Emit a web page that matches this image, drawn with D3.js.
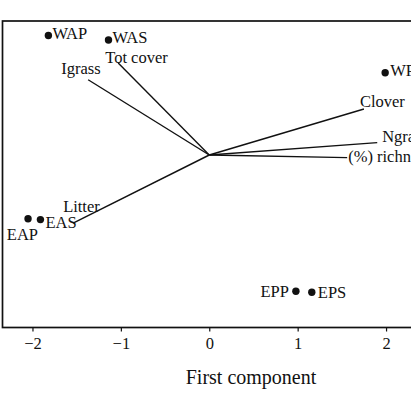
<!DOCTYPE html>
<html lang="en">
<head>
<meta charset="UTF-8" />
<title>Biplot</title>
<style>
  html, body { margin: 0; padding: 0; background: #fff; }
  svg { display: block; font-family: "Liberation Serif", "DejaVu Serif", serif; }
</style>
</head>
<body>
<div class="chart"></div>
<script src="https://d3js.org/d3.v7.min.js"></script>
<script>
// sites (scores)
const siteNames = ['WAP', 'WAS', 'WPP', 'EAP', 'EAS', 'EPP', 'EPS'];
const siteX = [-1.82, -1.14, 1.99, -2.05, -1.91, 0.98, 1.16];
const siteY = [1.35, 1.30, 0.93, -0.72, -0.73, -1.54, -1.55];

// variables (loadings)
const varNames = ['Tot cover', 'Igrass', 'Clover', 'Ngrass', '(%) richness', 'Litter'];
const varX = [-1.03, -1.37, 1.75, 1.90, 1.56, -1.54];
const varY = [1.04, 0.85, 0.52, 0.14, -0.03, -0.77];

const xTicks = [-2, -1, 0, 1, 2];
const xTitle = 'First component';

// label placement (dx, dy, anchor)
const siteLabelPos = [
  [4, 3, 'start'], [4, 3, 'start'], [5, 3, 'start'], [10, 21, 'end'],
  [5, 8, 'start'], [-7, 6, 'end'], [6, 6, 'start']
];
const varLabelPos = [
  [-13, 0, 'start'], [-27, -6, 'start'], [-4, -2, 'start'],
  [5, -1, 'start'], [1, 4, 'start'], [-10, -11, 'start']
];

const W = 411, H = 411;
const box = { left: 2.5, top: 21, right: 420, bottom: 327.5 };
const labelSize = '16.5px';

const svg = d3.select('.chart').append('svg')
  .attr('width', W).attr('height', H);

const x = d3.scaleLinear().domain([-2.339, 2.384]).range([box.left, box.right]);
const y = d3.scaleLinear().domain([-1.949, 1.514]).range([box.bottom, box.top]);

// frame
svg.append('rect')
  .attr('x', box.left).attr('y', box.top)
  .attr('width', box.right - box.left).attr('height', box.bottom - box.top)
  .attr('fill', 'none').attr('stroke', '#111').attr('stroke-width', 1.7);

// x axis
const xAxis = d3.axisBottom(x).tickValues(xTicks).tickSize(4).tickPadding(6)
  .tickFormat(d => d < 0 ? '\u2212' + Math.abs(d) : d);
const gx = svg.append('g').attr('transform', `translate(0,${box.bottom})`).call(xAxis);
gx.select('.domain').remove();
gx.selectAll('line').attr('stroke', '#111').attr('stroke-width', 1.2);
gx.selectAll('text').attr('fill', '#111').style('font-size', '16.5px')
  .style('font-family', '"Liberation Serif", serif');

svg.append('text')
  .attr('x', 251).attr('y', 384)
  .attr('text-anchor', 'middle')
  .style('font-size', '20px').attr('fill', '#111')
  .text(xTitle);

// vectors
const x0 = x(0), y0 = y(0);
svg.append('g').selectAll('line')
  .data(varNames)
  .join('line')
  .attr('x1', x0).attr('y1', y0)
  .attr('x2', (d, i) => x(varX[i]))
  .attr('y2', (d, i) => y(varY[i]))
  .attr('stroke', '#111').attr('stroke-width', 1.4);

svg.append('g').selectAll('text')
  .data(varNames)
  .join('text')
  .attr('x', (d, i) => x(varX[i]) + varLabelPos[i][0])
  .attr('y', (d, i) => y(varY[i]) + varLabelPos[i][1])
  .attr('text-anchor', (d, i) => varLabelPos[i][2])
  .style('font-size', labelSize).attr('fill', '#111')
  .text(d => d);

// sites
svg.append('g').selectAll('circle')
  .data(siteNames)
  .join('circle')
  .attr('cx', (d, i) => x(siteX[i]))
  .attr('cy', (d, i) => y(siteY[i]))
  .attr('r', 3.7)
  .attr('fill', '#111');

svg.append('g').selectAll('text')
  .data(siteNames)
  .join('text')
  .attr('x', (d, i) => x(siteX[i]) + siteLabelPos[i][0])
  .attr('y', (d, i) => y(siteY[i]) + siteLabelPos[i][1])
  .attr('text-anchor', (d, i) => siteLabelPos[i][2])
  .style('font-size', labelSize).attr('fill', '#111')
  .text(d => d);
</script>
</body>
</html>
